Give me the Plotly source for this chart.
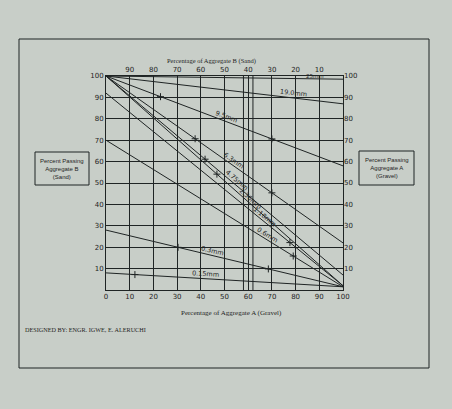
import math
import plotly.graph_objects as go

# ---- data ----
sieve_labels = ["25mm", "19.0mm", "9.5mm", "6.3mm", "4.75mm", "2.36mm", "1.18mm", "0.6mm", "0.3mm", "0.15mm"]
pass_sand = [100, 100, 100, 100, 100, 100, 92, 70, 28, 8]        # % passing at 0 % gravel (Aggregate B)
pass_gravel = [98.5, 87, 58, 22, 7, 2, 2, 1.5, 1.5, 1.5]          # % passing at 100 % gravel (Aggregate A)
label_at = [88, 79, 51, 54, 55, 61, 67, 68, 45, 42]               # x position of hand-written labels
marker_x = [[], [], [23, 70], [37.6, 70], [41.8], [46.8], [77.6], [79], [30.4, 68.5], [12.2]]
limit_lines = [58, 62]

x_ticks = [0, 10, 20, 30, 40, 50, 60, 70, 80, 90, 100]
y_ticks = [10, 20, 30, 40, 50, 60, 70, 80, 90, 100]
top_ticks = [10, 20, 30, 40, 50, 60, 70, 80, 90]

W, H = 452, 409
L, R, T, B = 106, 343, 76, 290
pw, ph = R - L, B - T

ink = "#1f2424"
bg = "#c8cec8"

fig = go.Figure()

for lab, b, a, lx, mx in zip(sieve_labels, pass_sand, pass_gravel, label_at, marker_x):
    fig.add_trace(go.Scatter(x=[0, 100], y=[b, a], mode="lines",
                             line=dict(color=ink, width=1), showlegend=False, hoverinfo="skip"))
    if mx:
        fig.add_trace(go.Scatter(x=mx, y=[b + (a - b) * v / 100 for v in mx], mode="markers",
                                 marker=dict(symbol="cross-thin-open", size=5, color=ink,
                                             line=dict(color=ink, width=1)),
                                 showlegend=False, hoverinfo="skip"))
    slope_px = (b - a) / 100 * ph / pw
    ang = math.degrees(math.atan(slope_px))
    ly = b + (a - b) * lx / 100
    fig.add_annotation(x=lx, y=ly, text=lab, showarrow=False, textangle=ang,
                       xanchor="center", yanchor="middle",
                       yshift=5 if lab != "25mm" else 3,
                       font=dict(family="DejaVu Sans", size=6.5 if lab != "25mm" else 5.5, color=ink))

for v in limit_lines:
    fig.add_trace(go.Scatter(x=[v, v], y=[0, 100], mode="lines",
                             line=dict(color=ink, width=1), showlegend=False, hoverinfo="skip"))

# invisible traces for secondary axes
fig.add_trace(go.Scatter(x=[0, 100], y=[0, 100], xaxis="x2", yaxis="y2", mode="lines",
                         line=dict(width=0), opacity=0, showlegend=False, hoverinfo="skip"))

tickfont = dict(family="DejaVu Sans", size=7, color=ink)
fig.update_layout(
    width=W, height=H,
    margin=dict(l=L, r=W - R, t=T, b=H - B, pad=0),
    paper_bgcolor=bg, plot_bgcolor=bg,
    xaxis=dict(range=[0, 100], tickvals=x_ticks, ticktext=[str(v) for v in x_ticks],
               showgrid=True, gridcolor=ink, gridwidth=1, zeroline=False,
               showline=True, linecolor=ink, linewidth=1, mirror=True,
               ticks="", tickfont=tickfont),
    yaxis=dict(range=[0, 100], tickvals=y_ticks, ticktext=[str(v) for v in y_ticks],
               showgrid=True, gridcolor=ink, gridwidth=1, zeroline=False,
               showline=True, linecolor=ink, linewidth=1, mirror=True,
               ticks="", tickfont=tickfont),
    xaxis2=dict(range=[0, 100], overlaying="x", side="top", tickvals=top_ticks,
                ticktext=[str(100 - v) for v in top_ticks], showgrid=False, zeroline=False,
                showline=False, ticks="", tickfont=tickfont, ticklabelstandoff=2),
    yaxis2=dict(range=[0, 100], overlaying="y", side="right", tickvals=y_ticks,
                ticktext=[str(v) for v in y_ticks], showgrid=False, zeroline=False,
                showline=False, ticks="", tickfont=tickfont),
)

def px(xp):
    return (xp - L) / pw

def py(yp):
    return (B - yp) / ph

# outer frame
fig.add_shape(type="rect", xref="paper", yref="paper", x0=px(19), x1=px(429), y0=py(368), y1=py(39),
              line=dict(color=ink, width=1))
# side boxes
fig.add_shape(type="rect", xref="paper", yref="paper", x0=px(35), x1=px(89), y0=py(185), y1=py(152),
              line=dict(color=ink, width=1))
fig.add_shape(type="rect", xref="paper", yref="paper", x0=px(359), x1=px(414), y0=py(185), y1=py(151),
              line=dict(color=ink, width=1))

serif = dict(family="Liberation Serif", size=7, color=ink)
small = dict(family="Liberation Sans", size=6, color=ink)
fig.add_annotation(xref="paper", yref="paper", x=px(62), y=py(168.5), showarrow=False,
                   xanchor="center", yanchor="middle",
                   text="Percent Passing<br>Aggregate B<br>(Sand)", font=small)
fig.add_annotation(xref="paper", yref="paper", x=px(386.5), y=py(168), showarrow=False,
                   xanchor="center", yanchor="middle",
                   text="Percent Passing<br>Aggregate A<br>(Gravel)", font=small)
fig.add_annotation(xref="paper", yref="paper", x=px(211), y=py(61), showarrow=False,
                   xanchor="center", yanchor="middle",
                   text="Percentage of Aggregate B (Sand)", font=dict(family="Liberation Serif", size=6.5, color=ink))
fig.add_annotation(xref="paper", yref="paper", x=px(231), y=py(313), showarrow=False,
                   xanchor="center", yanchor="middle",
                   text="Percentage of Aggregate A (Gravel)", font=serif)
fig.add_annotation(xref="paper", yref="paper", x=px(23), y=py(329), showarrow=False,
                   xanchor="left", yanchor="middle",
                   text="DESIGNED BY: ENGR. IGWE, E. ALERUCHI", font=dict(family="Liberation Serif", size=6.2, color=ink))

fig.write_html("out.html")
